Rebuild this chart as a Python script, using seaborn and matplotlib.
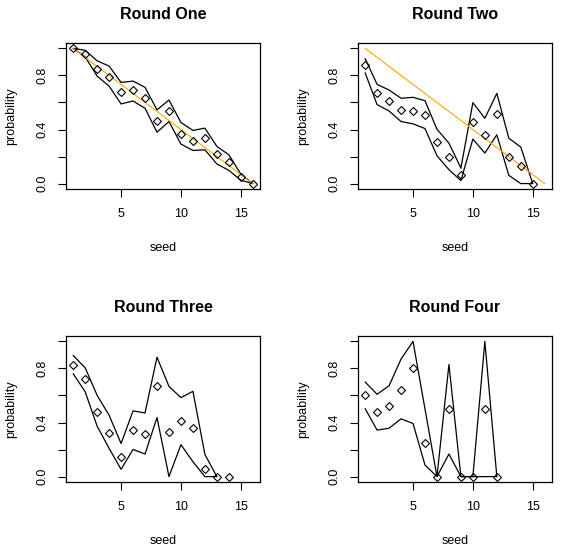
import matplotlib
matplotlib.use("Agg")
import matplotlib.pyplot as plt
import numpy as np
import pandas as pd
import seaborn as sns

sns.set_style("white")
plt.rcParams['font.family'] = ['Liberation Sans', 'DejaVu Sans']
plt.rcParams['text.color'] = 'black'
plt.rcParams['axes.labelcolor'] = 'black'

# round one
r1_seed = list(range(1, 17))
r1_prob = [1.0, 0.957, 0.847, 0.788, 0.675, 0.692, 0.636, 0.466, 0.537, 0.368, 0.312, 0.334, 0.216, 0.157, 0.052, 0.0]
r1_upper = [1.0, 0.986, 0.908, 0.869, 0.748, 0.758, 0.712, 0.545, 0.618, 0.452, 0.393, 0.41, 0.275, 0.213, 0.07, 0.0]
r1_lower = [1.0, 0.937, 0.795, 0.721, 0.589, 0.611, 0.557, 0.38, 0.459, 0.292, 0.245, 0.25, 0.145, 0.098, 0.025, 0.0]

# round two
r2_seed = list(range(1, 16))
r2_prob = [0.878, 0.672, 0.613, 0.545, 0.54, 0.51, 0.304, 0.199, 0.061, 0.459, 0.356, 0.518, 0.194, 0.133, 0.0]
r2_upper = [0.925, 0.734, 0.692, 0.631, 0.638, 0.613, 0.402, 0.299, 0.115, 0.599, 0.483, 0.667, 0.336, 0.27, 0.0]
r2_lower = [0.82, 0.584, 0.537, 0.459, 0.442, 0.407, 0.206, 0.103, 0.022, 0.329, 0.226, 0.361, 0.061, 0.0, 0.0]

# round three (no interval for the last seed)
r3_seed = list(range(1, 15))
r3_prob = [0.829, 0.721, 0.479, 0.324, 0.142, 0.348, 0.317, 0.67, 0.331, 0.412, 0.361, 0.059, 0.0, 0.0]
r3_bound_seed = list(range(1, 14))
r3_upper = [0.896, 0.805, 0.601, 0.454, 0.245, 0.486, 0.471, 0.883, 0.667, 0.584, 0.631, 0.164, 0.0]
r3_lower = [0.761, 0.628, 0.373, 0.209, 0.054, 0.201, 0.167, 0.437, 0.0, 0.236, 0.11, 0.0, 0.0]

# round four
r4_seed = list(range(1, 13))
r4_prob = [0.604, 0.481, 0.523, 0.638, 0.802, 0.25, 0.0, 0.5, 0.0, 0.0, 0.5, 0.0]
r4_upper = [0.70, 0.609, 0.672, 0.869, 1.0, 0.5, 0.0, 0.829, 0.0, 0.0, 1.0, 0.0]
r4_lower = [0.503, 0.344, 0.358, 0.427, 0.393, 0.086, 0.0, 0.167, 0.0, 0.0, 0.0, 0.0]

# diagonal reference
ref_seed = [1, 16]
ref_prob = [1.0, 0.0]

titles = ["Round One", "Round Two", "Round Three", "Round Four"]
rounds = [
    (r1_seed, r1_prob, r1_seed, r1_upper, r1_lower, True),
    (r2_seed, r2_prob, r2_seed, r2_upper, r2_lower, True),
    (r3_seed, r3_prob, r3_bound_seed, r3_upper, r3_lower, False),
    (r4_seed, r4_prob, r4_seed, r4_upper, r4_lower, False),
]

fig = plt.figure(figsize=(5.82, 5.51), dpi=100)
lefts = [0.1134, 0.615]
bottoms = [0.657, 0.1252]
w, h = 0.3333, 0.265

for i, (seed, prob, bseed, upper, lower, show_ref) in enumerate(rounds):
    ax = fig.add_axes([lefts[i % 2], bottoms[i // 2], w, h])
    bounds = pd.DataFrame({"seed": bseed, "upper": upper, "lower": lower})
    sns.lineplot(data=bounds, x="seed", y="upper", ax=ax, color="black", lw=0.9)
    sns.lineplot(data=bounds, x="seed", y="lower", ax=ax, color="black", lw=0.9)
    if show_ref:
        sns.lineplot(x=ref_seed, y=ref_prob, ax=ax, color="orange", lw=0.8)
    ax.plot(seed, prob, linestyle="none", marker="D", ms=4, mfc="none",
            mec="black", mew=0.8)

    ax.set_xlim(0.4, 16.6)
    ax.set_ylim(-0.04, 1.04)
    ax.set_xticks([5, 10, 15])
    ax.set_yticks([0, 0.2, 0.4, 0.6, 0.8, 1.0])
    ax.set_yticklabels(["0.0", "", "0.4", "", "0.8", ""], rotation=90, va="center")
    ax.tick_params(axis="both", direction="out", length=5.5, width=0.8,
                   labelsize=9, colors="black", bottom=True, left=True)
    ax.tick_params(axis="x", pad=8)
    ax.tick_params(axis="y", pad=7)
    for sp in ax.spines.values():
        sp.set_visible(True)
        sp.set_color("black")
        sp.set_linewidth(0.9)

    ax.set_xlabel("seed", fontsize=9)
    ax.set_ylabel("probability", fontsize=9)
    ax.xaxis.set_label_coords(0.5, -0.36)
    ax.yaxis.set_label_coords(-0.253, 0.5)
    ax.set_title(titles[i], fontsize=11.5, fontweight="bold", pad=17)

fig.savefig("out.png", dpi=100)
